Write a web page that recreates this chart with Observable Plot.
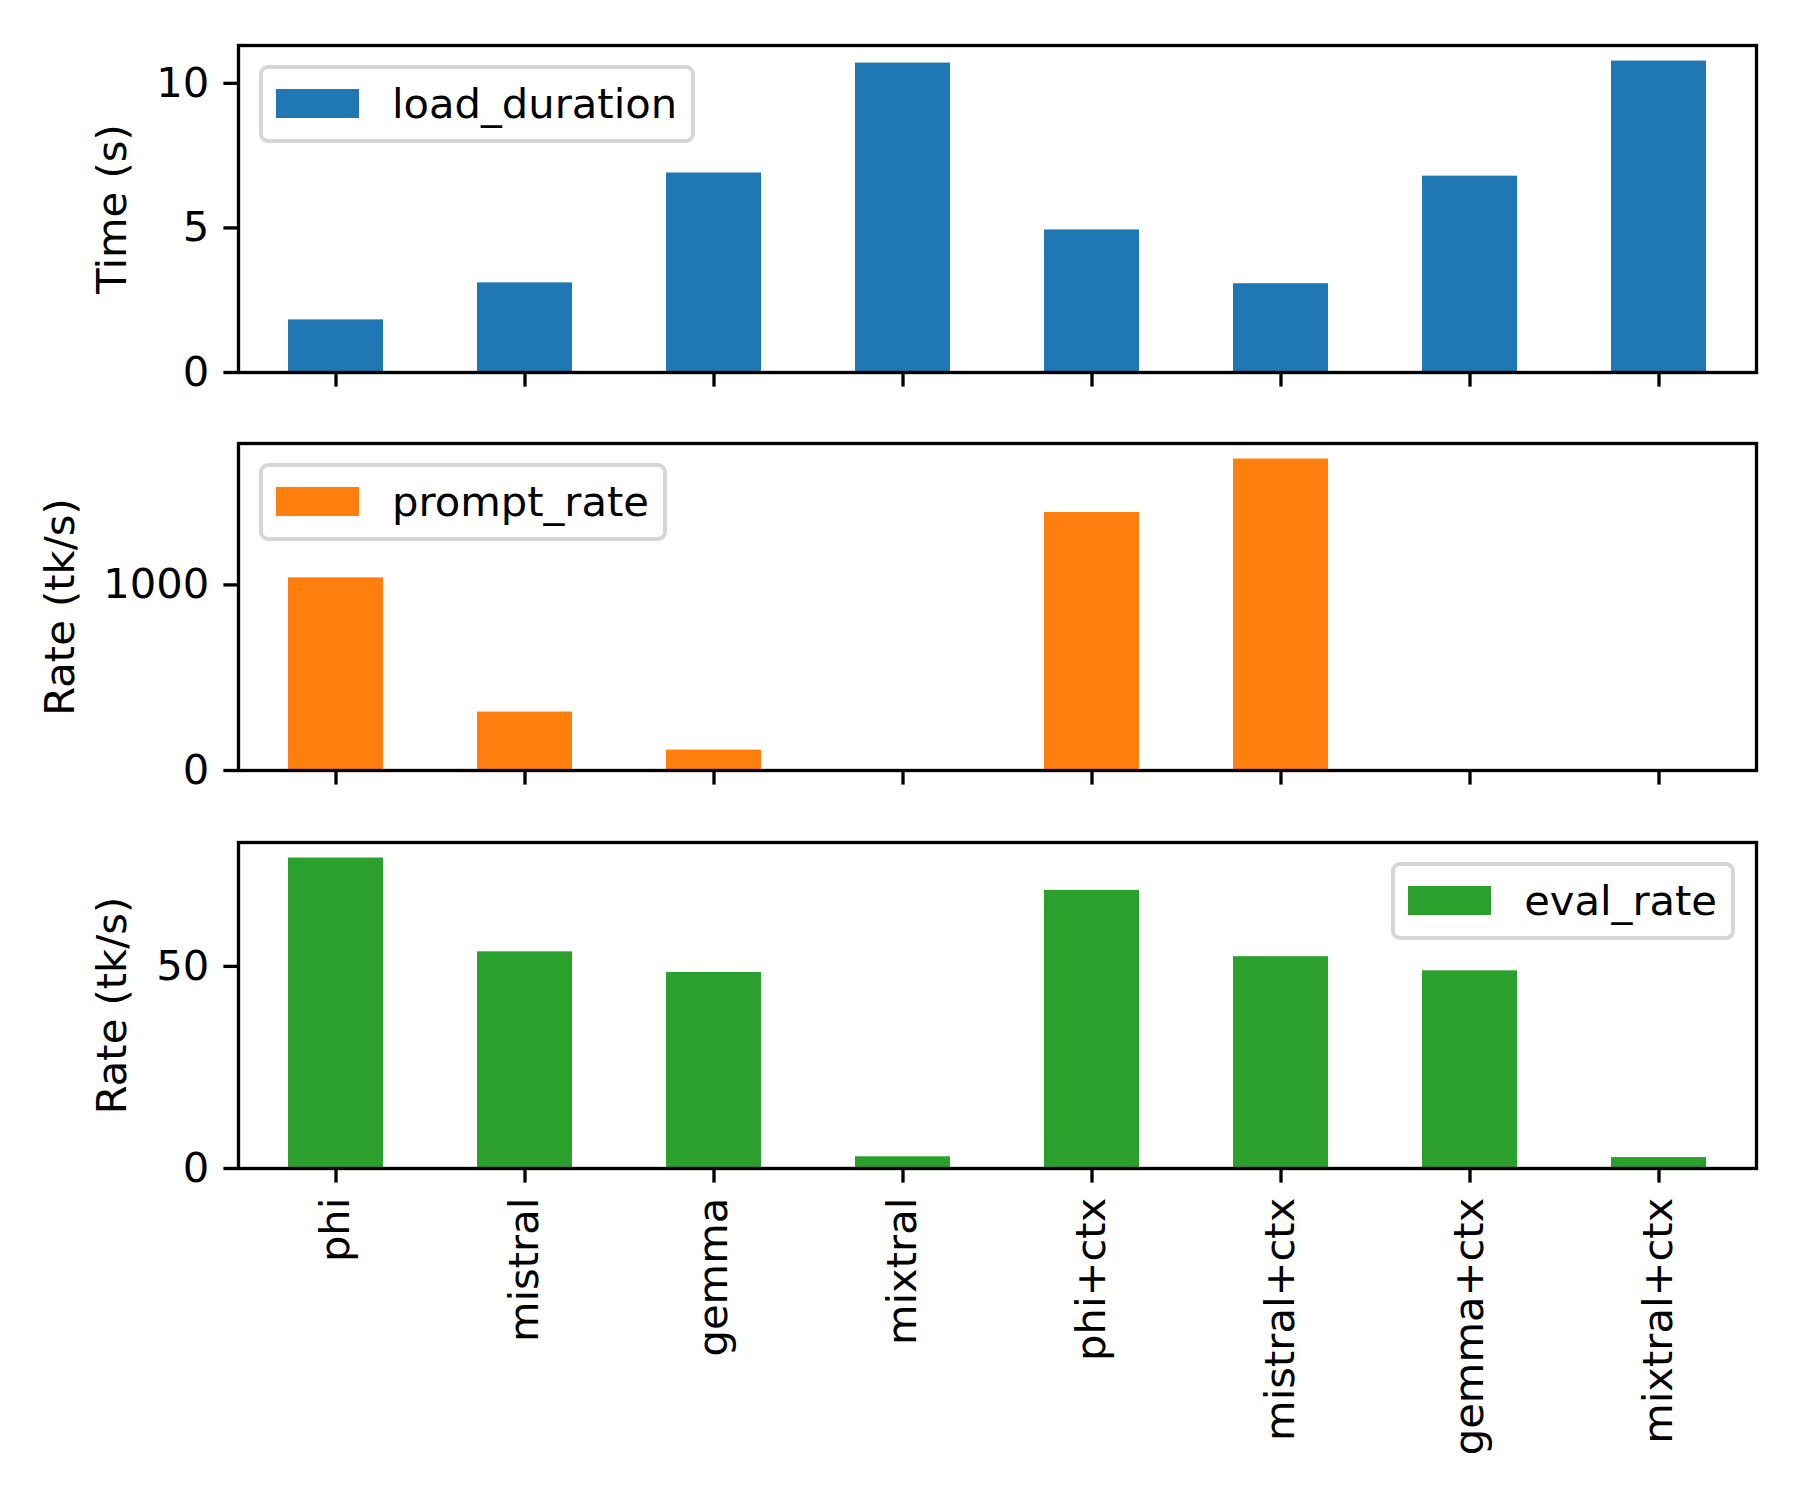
<!DOCTYPE html>
<html>
<head>
<meta charset="utf-8">
<script src="https://cdn.jsdelivr.net/npm/d3@7"></script>
<script src="https://cdn.jsdelivr.net/npm/@observablehq/plot@0.6"></script>
<style>
  html, body { margin: 0; padding: 0; background: white; }
  #wrap { position: relative; width: 1800px; height: 1500px; background: white; font-family: "DejaVu Sans", sans-serif; }
  #wrap svg { display: block; }
  .legend {
    position: absolute;
    box-sizing: border-box;
    border: 4px solid #d6d6d6;
    border-radius: 9px;
    background: rgba(255,255,255,0.8);
    padding: 12px 14px 13px 13px;
    display: flex; align-items: center;
    font-family: "DejaVu Sans", sans-serif;
    font-size: 41.67px; line-height: 45px; color: black;
    white-space: nowrap;
  }
  .legend .sw { width: 83px; height: 29px; margin-right: 33px; flex: none; }
</style>
</head>
<body>
<div id="wrap"></div>
<script>
const categories = ["phi", "mistral", "gemma", "mixtral", "phi+ctx", "mistral+ctx", "gemma+ctx", "mixtral+ctx"];
const loadDuration = [1.82, 3.10, 6.90, 10.70, 4.93, 3.07, 6.79, 10.77];
const promptRate = [1038, 315, 110, 0, 1390, 1678, 0, 0];
const evalRate = [76.8, 53.6, 48.5, 2.9, 68.8, 52.4, 48.9, 2.7];
const timeTicks = [0, 5, 10];
const promptTicks = [0, 1000];
const evalTicks = [0, 50];
const seriesNames = ["load_duration", "prompt_rate", "eval_rate"];
const seriesColors = ["#1f77b4", "#ff7f0e", "#2ca02c"];
const yLabels = ["Time (s)", "Rate (tk/s)", "Rate (tk/s)"];

const FS = 41.67, TICK = 14.6, LW = 3.33;
const wrap = document.getElementById("wrap");

const panels = [
  {values: loadDuration, ticks: timeTicks, height: 400, mt: 45, mb: 28, labelOffset: 142, last: false},
  {values: promptRate, ticks: promptTicks, height: 400, mt: 43, mb: 30, labelOffset: 194, last: false},
  {values: evalRate, ticks: evalTicks, height: 700, mt: 42, mb: 332, labelOffset: 142, last: true}
];

let yOff = 0;
panels.forEach((p, i) => {
  const data = categories.map((c, j) => ({cat: c, v: p.values[j]}));
  const chart = Plot.plot({
    width: 1800,
    height: p.height,
    marginLeft: 238,
    marginRight: 44,
    marginTop: p.mt,
    marginBottom: p.mb,
    style: {fontFamily: "DejaVu Sans", fontSize: FS + "px", background: "white", color: "black", overflow: "visible"},
    x: {type: "band", domain: categories, paddingInner: 0.5, paddingOuter: 0.25, label: null},
    y: {domain: [0, d3.max(p.values) * 1.05], label: null},
    marks: [
      Plot.barY(data, {x: "cat", y: "v", fill: seriesColors[i], inset: 0}),
      Plot.frame({stroke: "black", strokeWidth: LW}),
      Plot.axisY(p.ticks, {
        tickSize: TICK, tickPadding: TICK, fontSize: FS, strokeWidth: LW, stroke: "black", fill: "black",
        tickFormat: d3.format("d"),
        label: yLabels[i], labelAnchor: "center", labelArrow: "none", labelOffset: p.labelOffset
      }),
      p.last
        ? Plot.axisX({tickSize: TICK, tickPadding: TICK, tickRotate: -90, fontSize: FS, strokeWidth: LW, stroke: "black", fill: "black", label: null})
        : Plot.axisX({tickSize: TICK, strokeWidth: LW, stroke: "black", tickFormat: () => "", label: null})
    ]
  });
  wrap.appendChild(chart);

  const lg = document.createElement("div");
  lg.className = "legend";
  const sw = document.createElement("span");
  sw.className = "sw";
  sw.style.background = seriesColors[i];
  const tx = document.createElement("span");
  tx.textContent = seriesNames[i];
  lg.appendChild(sw); lg.appendChild(tx);
  lg.style.top = (yOff + p.mt + 20) + "px";
  if (i === 2) lg.style.right = "65px"; else lg.style.left = "259px";
  wrap.appendChild(lg);
  yOff += p.height;
});
</script>
</body>
</html>
